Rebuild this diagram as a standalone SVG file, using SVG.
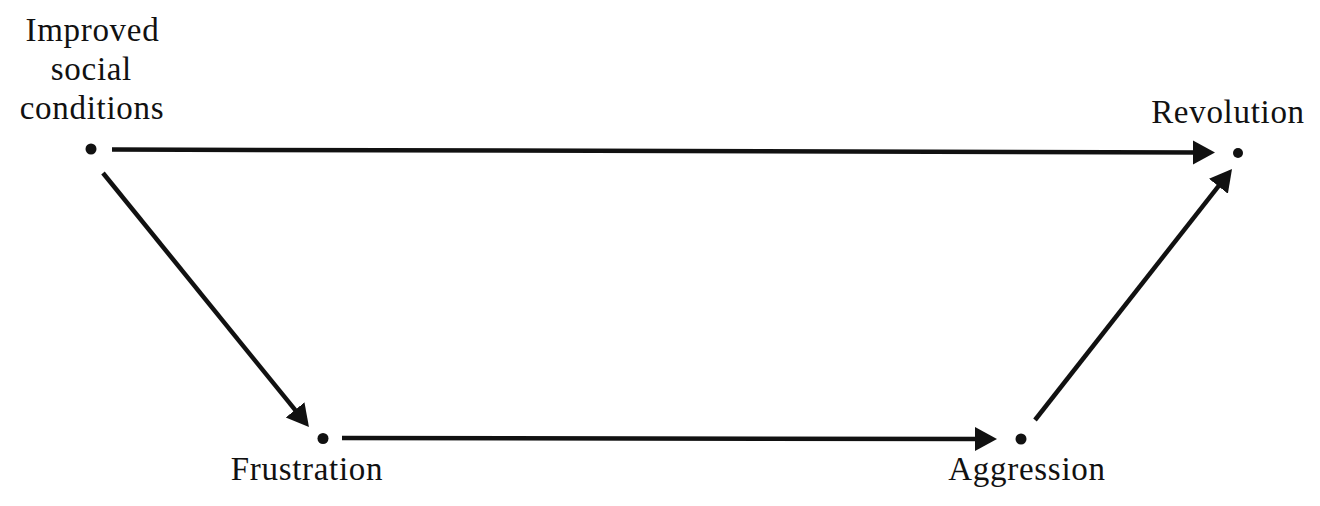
<svg xmlns="http://www.w3.org/2000/svg" width="1320" height="506" viewBox="0 0 1320 506">
<style>
.lbl{font-family:"Liberation Serif","Times New Roman",serif;font-size:33px;letter-spacing:0.7px;fill:#111;text-anchor:middle}
.dot{fill:#111}
.edge{stroke:#111;stroke-width:4.5;fill:none}
</style>
<defs>
<marker id="ah" markerUnits="userSpaceOnUse" markerWidth="26" markerHeight="26" viewBox="0 -13 26 26" refX="10" refY="0" orient="auto">
<path d="M0,-12 L22,0 L0,12 z" fill="#111"/>
</marker>
</defs>
<rect width="1320" height="506" fill="#fff"/>
<g id="connectors">
<line class="edge" x1="112" y1="149.5" x2="1203" y2="152.5" marker-end="url(#ah)"/>
<line class="edge" x1="103" y1="173" x2="301.4" y2="417.7" marker-end="url(#ah)"/>
<line class="edge" x1="342" y1="438" x2="985" y2="439" marker-end="url(#ah)"/>
<line class="edge" x1="1035" y1="420" x2="1224.6" y2="178.4" marker-end="url(#ah)"/>
</g>
<g id="node-improved">
<circle class="dot" cx="91" cy="149" r="5.5"/>
<text class="lbl" x="92.4" y="41">Improved</text>
<text class="lbl" x="91.4" y="80">social</text>
<text class="lbl" x="92" y="118.5">conditions</text>
</g>
<g id="node-revolution">
<circle class="dot" cx="1238" cy="153" r="5"/>
<text class="lbl" x="1228" y="123">Revolution</text>
</g>
<g id="node-frustration">
<circle class="dot" cx="323" cy="438.5" r="5.5"/>
<text class="lbl" x="307" y="480">Frustration</text>
</g>
<g id="node-aggression">
<circle class="dot" cx="1021" cy="439" r="5.5"/>
<text class="lbl" x="1027" y="480">Aggression</text>
</g>
</svg>
